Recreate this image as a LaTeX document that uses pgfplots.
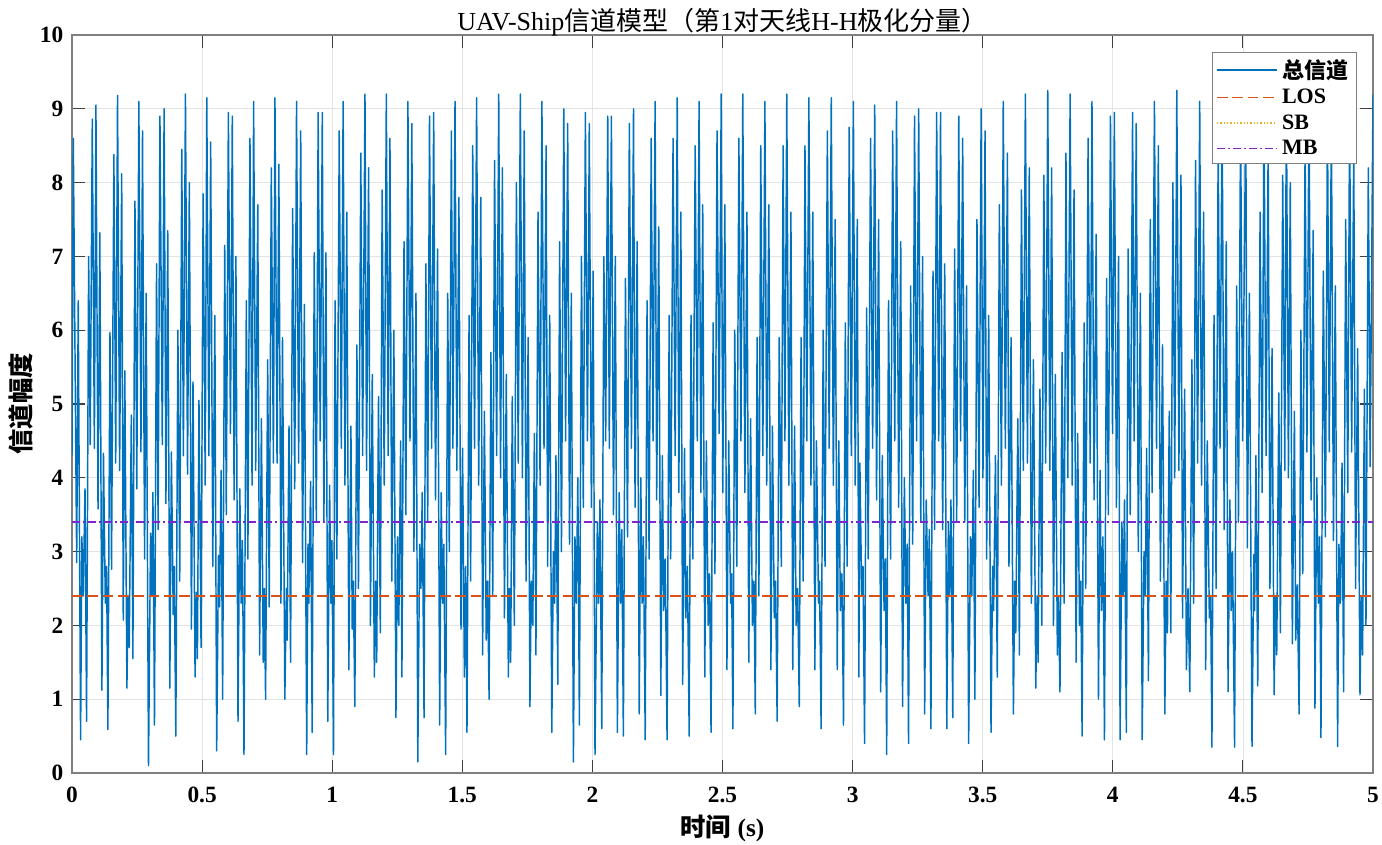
\documentclass[border=0pt]{standalone}
\usepackage{fontspec}
\setmainfont{Liberation Serif}
\newfontfamily\cjk{Noto Sans CJK SC}
\usepackage{pgfplots}
\pgfplotsset{compat=1.18}

\definecolor{chblue}{RGB}{0,114,189}
\definecolor{losorange}{RGB}{217,83,25}
\definecolor{sbyellow}{RGB}{237,177,32}
\definecolor{mbpurple}{RGB}{125,38,205}
\definecolor{framegray}{RGB}{128,128,128}

\begin{document}
\begin{tikzpicture}[x=1pt,y=1pt]
\useasboundingbox (0,0) rectangle (1036.5,633.75);
\begin{axis}[
  at={(54pt,54pt)}, anchor=south west,
  scale only axis, width=975.75pt, height=553.5pt,
  xmin=0, xmax=5, ymin=0, ymax=10,
  xtick={0,0.5,...,5}, ytick={0,1,...,10},
  grid=major, major grid style={gray!22, line width=0.5pt},
  axis line style={framegray, line width=1.2pt},
  tick style={black!75, line width=0.8pt}, major tick length=10pt, tick align=inside,
  /pgf/number format/assume math mode=true,
  tick label style={font=\fontsize{17.5}{19}\selectfont\bfseries},
  xticklabel style={yshift=-7pt},
  yticklabel style={xshift=-3pt},
  every axis title shift=0pt,
  title={UAV-Ship{\cjk 信道模型（第}1{\cjk 对天线}H-H{\cjk 极化分量）}},
  title style={at={(axis description cs:0.5,1)}, anchor=base, yshift=3pt, inner sep=0pt,
    text height=14pt, text depth=4pt, font=\fontsize{19.5}{21}\selectfont},
  xlabel={{\cjk 时间} (s)},
  ylabel={\cjk 信道幅度},
  every axis x label/.style={at={(axis description cs:0.5,0)}, anchor=north, yshift=-31pt,
    inner sep=0pt, font=\fontsize{19}{21}\selectfont\bfseries},
  every axis y label/.style={at={(axis description cs:-0.0297,0.5)}, rotate=90, anchor=south,
    inner sep=0pt, font=\fontsize{19}{21}\selectfont\bfseries},
  legend image code/.code={\draw[#1] (0pt,0pt) -- (45pt,0pt);},
  legend style={at={(0.9877,0.977)}, anchor=north east, draw=framegray, line width=0.8pt,
    fill=white, font=\fontsize{16.5}{18}\selectfont\bfseries,
    nodes={inner sep=3.3pt}, cells={anchor=west}},
]
% total channel
\addplot[color=chblue, line width=1.1pt, line join=round] coordinates {
(0.000,4.3)(0.005,8.6)(0.018,2.85)(0.024,6.4)(0.033,0.45)(0.038,3.2)(0.043,2.4)(0.050,3.85)
(0.056,0.7)(0.064,7.0)(0.070,4.45)(0.078,8.86)(0.086,4.4)(0.092,9.05)(0.100,3.58)(0.107,7.32)
(0.115,1.12)(0.121,4.33)(0.128,2.3)(0.133,2.8)(0.138,0.59)(0.146,5.97)(0.152,2.76)(0.161,8.38)
(0.168,4.2)(0.175,9.18)(0.183,4.1)(0.191,8.12)(0.197,2.07)(0.203,5.45)(0.211,1.15)(0.216,2.4)
(0.220,1.7)(0.228,4.85)(0.234,1.55)(0.242,7.75)(0.249,3.85)(0.257,9.1)(0.265,4.35)(0.271,8.7)
(0.279,2.9)(0.285,6.5)(0.294,0.1)(0.302,3.25)(0.307,2.4)(0.311,3.8)(0.317,0.65)(0.325,6.9)
(0.331,3.3)(0.338,8.9)(0.347,4.45)(0.354,9.0)(0.361,3.65)(0.368,7.35)(0.376,1.15)(0.382,4.35)
(0.389,2.15)(0.393,2.8)(0.399,0.5)(0.407,6.0)(0.414,2.6)(0.422,8.45)(0.428,4.3)(0.436,9.2)
(0.444,4.05)(0.451,8.0)(0.459,1.95)(0.465,5.3)(0.473,1.3)(0.478,2.45)(0.482,1.55)(0.488,5.05)
(0.496,1.7)(0.504,7.85)(0.512,3.9)(0.518,9.15)(0.526,4.3)(0.533,8.55)(0.541,2.8)(0.549,6.2)
(0.556,0.3)(0.563,2.95)(0.567,2.25)(0.573,4.1)(0.579,1.0)(0.587,7.15)(0.593,3.5)(0.601,8.95)
(0.609,4.6)(0.616,8.9)(0.623,3.7)(0.630,7.0)(0.638,0.7)(0.645,3.85)(0.650,2.3)(0.655,3.15)
(0.661,0.25)(0.670,6.4)(0.676,2.9)(0.684,8.6)(0.692,3.9)(0.698,9.1)(0.706,4.1)(0.714,7.7)
(0.721,1.6)(0.728,4.8)(0.735,1.5)(0.739,2.5)(0.744,1.0)(0.752,5.6)(0.758,2.25)(0.766,8.2)
(0.774,4.2)(0.780,9.15)(0.788,4.2)(0.795,8.25)(0.803,2.3)(0.809,5.9)(0.818,1.0)(0.824,2.5)
(0.827,1.8)(0.834,4.7)(0.840,1.5)(0.848,7.65)(0.856,3.85)(0.863,9.1)(0.871,4.2)(0.879,8.7)
(0.886,2.85)(0.893,6.35)(0.902,0.25)(0.907,3.1)(0.910,2.3)(0.917,3.95)(0.923,0.55)(0.931,7.05)
(0.939,3.4)(0.946,8.95)(0.954,4.5)(0.962,8.95)(0.968,3.4)(0.976,7.05)(0.983,0.7)(0.990,3.9)
(0.995,2.3)(0.999,3.15)(1.005,0.25)(1.011,6.4)
(1.018,2.9)(1.027,8.7)(1.035,4.4)(1.042,9.1)(1.049,3.9)(1.056,7.6)(1.064,1.4)(1.072,4.7)
(1.077,1.95)(1.081,2.6)(1.087,0.9)(1.095,5.8)(1.101,2.5)(1.110,8.4)(1.117,4.3)(1.126,9.2)
(1.132,4.1)(1.140,8.2)(1.147,2.0)(1.154,5.4)(1.162,1.3)(1.167,2.6)(1.171,1.5)(1.178,5.1)
(1.185,1.9)(1.192,7.9)(1.200,3.9)(1.208,9.2)(1.215,4.3)(1.222,8.6)(1.229,2.6)(1.237,6.0)
(1.245,0.75)(1.251,3.2)(1.256,2.0)(1.263,4.5)(1.268,1.3)(1.276,7.2)(1.283,3.5)(1.291,9.1)
(1.299,4.5)(1.306,8.8)(1.314,3.0)(1.322,6.5)(1.329,0.15)(1.336,3.1)(1.341,2.5)(1.346,3.8)
(1.353,0.75)(1.360,6.9)(1.367,3.4)(1.374,8.9)(1.382,4.4)(1.390,8.95)(1.397,3.7)(1.405,7.1)
(1.413,0.65)(1.419,3.8)(1.424,2.3)(1.429,3.1)(1.436,0.25)(1.444,6.5)(1.450,3.0)(1.458,8.7)
(1.464,4.4)(1.472,9.1)(1.479,4.1)(1.487,7.8)(1.495,1.95)(1.501,4.4)(1.508,1.3)(1.513,2.8)
(1.518,0.55)(1.526,6.2)(1.532,2.6)(1.540,8.5)(1.547,4.4)(1.555,9.15)(1.563,3.9)(1.571,7.8)
(1.578,1.6)(1.585,4.9)(1.592,1.8)(1.597,2.6)(1.603,1.0)(1.610,5.7)(1.617,2.4)(1.624,8.3)
(1.632,4.3)(1.640,9.2)(1.647,4.0)(1.654,8.2)(1.662,2.1)(1.669,5.4)(1.677,1.3)(1.681,2.5)
(1.686,1.5)(1.692,5.1)(1.700,2.0)(1.708,8.0)(1.715,4.2)(1.723,9.2)(1.731,4.0)(1.738,8.7)
(1.745,2.6)(1.753,5.9)(1.760,0.9)(1.765,2.6)(1.771,2.0)(1.777,4.6)(1.783,1.6)(1.791,7.6)
(1.799,3.9)(1.806,9.1)(1.814,4.4)(1.822,8.5)(1.828,2.8)(1.836,6.2)(1.844,0.55)(1.850,3.0)
(1.855,2.3)(1.860,4.3)(1.867,1.2)(1.874,7.2)(1.881,3.0)(1.890,9.0)(1.897,4.5)(1.905,8.8)
(1.912,3.1)(1.919,6.5)(1.927,0.15)(1.933,3.2)(1.938,2.3)(1.944,4.0)(1.950,0.65)(1.958,7.0)
(1.965,3.6)(1.973,8.95)(1.981,4.5)(1.988,8.8)(1.996,3.6)(2.003,6.8)(2.010,0.25)
(2.019,3.4)(2.024,2.3)(2.029,3.7)(2.036,0.6)(2.044,7.0)(2.051,4.5)(2.059,8.9)(2.065,4.4)
(2.073,8.9)(2.081,3.5)(2.088,7.0)(2.096,0.55)(2.103,3.8)(2.108,2.3)(2.113,3.3)(2.119,0.5)
(2.127,6.7)(2.135,3.2)(2.142,8.8)(2.150,4.4)(2.158,9.0)(2.164,3.6)(2.172,7.2)(2.180,0.8)
(2.186,4.0)(2.191,2.3)(2.196,3.2)(2.203,0.45)(2.210,6.4)(2.218,2.9)(2.226,8.6)(2.233,4.5)
(2.241,9.1)(2.247,3.7)(2.255,7.4)(2.263,1.05)(2.269,4.3)(2.274,2.2)(2.280,2.9)(2.287,0.45)
(2.295,6.2)(2.301,2.9)(2.310,8.6)(2.318,4.3)(2.326,9.15)(2.332,3.8)(2.340,7.6)(2.347,1.2)
(2.354,4.4)(2.359,2.1)(2.365,2.8)(2.372,0.5)(2.379,6.2)(2.386,2.9)(2.395,8.5)(2.403,4.5)
(2.410,9.1)(2.417,3.8)(2.424,7.7)(2.432,1.3)(2.438,4.5)(2.445,2.0)(2.450,2.7)(2.456,0.55)
(2.464,6.1)(2.471,2.7)(2.479,8.7)(2.487,4.6)(2.495,9.2)(2.501,3.8)(2.509,7.7)(2.517,1.4)
(2.524,4.5)(2.531,2.3)(2.535,2.7)(2.540,0.6)(2.547,6.0)(2.555,2.8)(2.563,8.6)(2.571,4.5)
(2.578,9.2)(2.586,3.8)(2.594,7.6)(2.601,1.5)(2.608,4.8)(2.615,2.0)(2.621,2.6)(2.626,0.8)
(2.633,5.9)(2.640,2.4)(2.647,8.5)(2.655,4.3)(2.663,9.1)(2.670,3.9)(2.678,7.7)(2.686,1.4)
(2.692,4.7)(2.699,2.1)(2.704,2.6)(2.710,0.7)(2.718,5.9)(2.726,2.8)(2.733,8.5)(2.740,4.5)
(2.747,9.2)(2.755,3.9)(2.763,7.6)(2.770,1.4)(2.777,4.7)(2.783,2.0)(2.789,2.5)(2.795,0.9)
(2.802,5.9)(2.810,2.6)(2.817,8.5)(2.824,4.5)(2.832,9.15)(2.840,3.9)(2.847,7.6)(2.855,1.4)
(2.861,4.5)(2.869,2.3)(2.873,2.6)(2.879,0.6)(2.887,6.0)(2.894,2.8)(2.903,8.7)(2.910,4.4)
(2.918,9.15)(2.926,3.9)(2.933,7.5)(2.941,1.4)(2.947,4.5)(2.953,2.2)(2.959,2.7)(2.965,0.65)
(2.972,6.1)(2.979,2.8)(2.987,8.75)(2.995,4.3)(3.003,9.1)(3.010,3.9)(3.018,7.5)(3.024,1.3)
(3.028,4.2)(3.035,2.4)(3.040,2.8)(3.046,0.4)(3.054,6.3)(3.060,2.9)(3.069,8.6)(3.077,4.4)
(3.085,9.05)(3.092,3.7)(3.100,7.5)(3.108,1.1)(3.114,4.3)(3.121,2.2)(3.126,2.9)(3.131,0.25)
(3.138,6.4)(3.146,2.9)(3.154,8.7)(3.162,4.5)(3.169,9.1)(3.177,3.6)(3.185,7.2)(3.192,0.9)
(3.199,4.0)(3.205,2.3)(3.210,3.1)(3.215,0.4)(3.223,6.6)(3.231,3.1)(3.238,8.9)(3.246,4.5)
(3.254,9.0)(3.262,3.4)(3.269,7.0)(3.277,0.8)(3.283,3.7)(3.290,2.4)(3.295,3.3)(3.301,0.6)
(3.309,6.8)(3.315,3.3)(3.323,8.95)(3.331,4.5)(3.338,8.95)(3.346,3.3)(3.354,6.9)(3.362,0.6)
(3.368,3.4)(3.373,2.4)(3.378,3.7)(3.385,0.75)(3.392,7.1)(3.400,3.4)(3.408,8.9)(3.415,4.5)
(3.423,8.6)(3.431,3.4)(3.438,6.6)(3.446,0.4)(3.453,3.2)(3.458,2.4)(3.464,4.1)(3.470,1.0)
(3.478,7.5)(3.486,3.6)(3.494,9.0)(3.501,4.0)(3.509,8.7)(3.515,2.9)(3.523,6.2)(3.532,0.55)
(3.538,2.8)(3.542,2.2)(3.549,4.3)(3.556,1.3)(3.564,7.7)(3.572,3.9)(3.579,9.1)(3.587,4.4)
(3.595,8.4)(3.601,2.8)(3.609,5.9)(3.618,0.8)(3.623,2.6)(3.627,1.9)(3.635,4.8)(3.641,1.6)
(3.649,7.9)(3.656,4.1)(3.664,9.2)(3.672,4.2)(3.679,8.2)(3.687,2.3)(3.695,5.6)(3.704,1.15)
(3.709,2.4)(3.713,1.5)(3.720,5.2)(3.727,2.0)(3.735,8.1)(3.742,4.2)(3.750,9.25)(3.758,4.1)
(3.765,8.2)(3.772,2.0)(3.779,5.4)(3.787,1.6)(3.791,2.4)(3.797,1.1)(3.805,5.7)(3.813,2.3)
(3.820,8.4)(3.827,4.0)(3.836,9.2)(3.844,3.9)(3.851,7.9)(3.859,1.5)(3.865,4.6)(3.872,2.0)
(3.877,2.6)(3.882,0.5)(3.890,6.1)(3.896,2.5)(3.905,8.6)(3.913,4.2)(3.920,9.1)(3.928,3.7)
(3.936,7.3)(3.945,1.0)(3.951,4.1)(3.956,2.2)(3.962,3.2)(3.968,0.45)(3.976,6.7)(3.983,3.5)
(3.991,8.9)(3.999,4.6)(4.006,8.95)(4.014,3.6)(4.022,7.0)
(4.028,0.45)(4.035,3.4)(4.040,2.4)(4.045,3.7)(4.052,0.55)(4.059,7.1)(4.067,3.5)(4.076,8.95)
(4.082,4.5)(4.090,8.8)(4.098,3.0)(4.106,6.5)(4.113,0.45)(4.120,3.0)(4.125,2.4)(4.130,4.4)
(4.137,1.25)(4.144,7.5)(4.151,3.8)(4.160,9.1)(4.168,4.4)(4.175,8.5)(4.183,2.6)(4.191,5.8)
(4.200,0.8)(4.205,2.6)(4.210,1.9)(4.217,4.9)(4.223,1.9)(4.231,8.0)(4.238,4.0)(4.246,9.25)
(4.254,4.1)(4.262,8.1)(4.268,2.1)(4.276,5.2)(4.283,1.4)(4.289,2.5)(4.296,1.1)(4.304,5.6)
(4.311,2.3)(4.318,8.3)(4.326,4.2)(4.334,9.1)(4.341,3.9)(4.349,7.6)(4.357,1.4)(4.363,4.5)
(4.371,2.1)(4.376,2.4)(4.381,0.35)(4.389,6.2)(4.397,2.5)(4.405,8.6)(4.412,4.4)(4.420,9.1)
(4.428,3.3)(4.436,7.2)(4.443,1.1)(4.450,3.7)(4.455,2.2)(4.460,3.0)(4.468,0.35)(4.476,6.6)
(4.483,3.4)(4.491,8.9)(4.499,4.5)
(4.511,9.0)(4.517,3.05)(4.525,6.5)(4.535,0.36)(4.542,2.96)(4.545,2.2)(4.550,4.3)(4.557,1.18)
(4.566,7.6)(4.574,3.8)(4.581,9.0)(4.589,4.3)(4.597,8.5)(4.604,2.5)(4.612,5.75)(4.620,1.06)
(4.625,2.4)(4.630,1.6)(4.638,5.15)(4.644,1.9)(4.653,8.1)(4.661,4.1)(4.667,9.2)(4.675,4.0)
(4.682,8.0)(4.690,1.75)(4.698,4.9)(4.703,1.8)(4.709,2.55)(4.716,0.8)(4.723,6.0)(4.730,2.7)
(4.739,8.5)(4.746,4.35)(4.754,9.1)(4.762,3.7)(4.770,7.35)(4.777,0.88)(4.784,4.0)(4.790,2.3)
(4.795,3.2)(4.800,0.48)(4.809,6.8)(4.817,3.2)(4.825,8.9)(4.832,4.35)(4.840,8.9)(4.848,3.15)
(4.855,6.6)(4.864,0.36)(4.869,3.1)(4.875,2.3)(4.881,4.2)(4.887,1.1)(4.895,7.5)(4.903,3.8)
(4.910,9.0)(4.918,4.35)(4.926,8.5)(4.933,2.5)(4.941,5.75)(4.950,1.06)(4.955,2.4)(4.960,1.6)
(4.967,5.2)(4.973,2.0)(4.982,8.2)(4.989,4.15)(5.000,9.2)
};
% LOS component
\addplot[color=losorange, draw=losorange, line width=1pt, dash pattern=on 8pt off 3.5pt] coordinates {(0,2.4) (5,2.4)};
% SB component (not visible in the plotted range)
\addlegendimage{color=sbyellow, draw=sbyellow, line width=1pt, dash pattern=on 1pt off 1.5pt}
% MB component
\addplot[color=mbpurple, draw=mbpurple, line width=0.9pt, dash pattern=on 6pt off 2.5pt on 1pt off 2.5pt] coordinates {(0,3.4) (5,3.4)};
\legend{{\cjk 总信道},LOS,SB,MB}
\end{axis}
\end{tikzpicture}
\end{document}
